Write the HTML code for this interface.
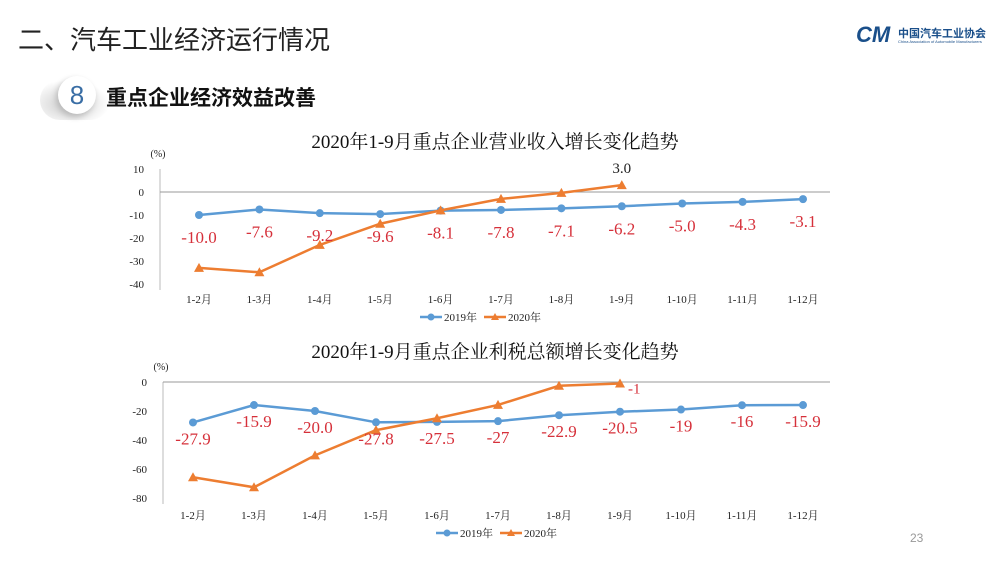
<!DOCTYPE html>
<html><head><meta charset="utf-8">
<style>
body{margin:0;width:1000px;height:563px;background:#fff;overflow:hidden;position:relative;font-family:"Liberation Sans","Noto Sans CJK SC",sans-serif;}
.abs{position:absolute;}
</style></head>
<body>
<div class="abs" style="left:18px;top:20px;font-size:26px;color:#222;">二、汽车工业经济运行情况</div>
<div class="abs" style="left:856px;top:24px;width:140px;height:24px;">
  <span style="position:absolute;left:0;top:-2px;font:italic bold 22px 'Liberation Sans',sans-serif;color:#1a4f8a;">CM</span>
  <span style="position:absolute;left:42px;top:1px;font-size:11px;font-weight:bold;color:#1a4f8a;">中国汽车工业协会</span>
  <span style="position:absolute;left:42px;top:15px;font-size:4px;color:#1a4f8a;">China Association of Automobile Manufacturers</span>
</div>
<div class="abs" style="left:40px;top:80px;width:70px;height:40px;border-radius:20px;background:radial-gradient(ellipse at 40% 60%,#ccc,rgba(255,255,255,0) 70%);"></div>
<div class="abs" style="left:58px;top:76px;width:38px;height:38px;border-radius:50%;background:#fff;box-shadow:-2px 3px 6px #bbb;text-align:center;line-height:38px;font-size:26px;color:#3a6ea5;">8</div>
<div class="abs" style="left:106px;top:82px;font-size:21px;font-weight:bold;color:#111;">重点企业经济效益改善</div>
<div class="abs" style="left:910px;top:531px;font-size:12px;color:#999;">23</div>
<svg id="chart" class="abs" style="left:0;top:0" width="1000" height="563"></svg>
<script>
const categories=["1-2月","1-3月","1-4月","1-5月","1-6月","1-7月","1-8月","1-9月","1-10月","1-11月","1-12月"];
const rev2019=[-10.0,-7.6,-9.2,-9.6,-8.1,-7.8,-7.1,-6.2,-5.0,-4.3,-3.1];
const rev2019Labels=["-10.0","-7.6","-9.2","-9.6","-8.1","-7.8","-7.1","-6.2","-5.0","-4.3","-3.1"];
const rev2020=[-33.0,-34.9,-23.0,-13.8,-8.0,-3.0,-0.4,3.0];
const revTicks=[10,0,-10,-20,-30,-40];
const prof2019=[-27.9,-15.9,-20.0,-27.8,-27.5,-27,-22.9,-20.5,-19,-16,-15.9];
const prof2019Labels=["-27.9","-15.9","-20.0","-27.8","-27.5","-27","-22.9","-20.5","-19","-16","-15.9"];
const prof2020=[-65.7,-72.6,-50.6,-33.2,-25,-15.8,-2.6,-1];
const profTicks=[0,-20,-40,-60,-80];

const svg=document.getElementById('chart');
const NS='http://www.w3.org/2000/svg';
function mk(tag,attrs,text){const e=document.createElementNS(NS,tag);for(const k in attrs)e.setAttribute(k,attrs[k]);if(text!==undefined)e.textContent=text;svg.appendChild(e);return e;}
const BLUE='#5b9bd5',ORANGE='#ed7d31',RED='#d6303a',SERIF='"Liberation Serif","Noto Serif CJK SC",serif';

function drawChart(o){
  const xs=i=>o.x0+i*o.dx;
  const ys=v=>o.y0+(0-v)*o.k;
  let t=mk('text',{x:495,y:o.titleY,'text-anchor':'middle','font-size':19,'font-family':SERIF,fill:'#111'},o.title);
  
  
  t=mk('text',{x:o.axisX-2,y:ys(o.ticks[0])-12,'text-anchor':'middle','font-size':10,'font-family':SERIF,fill:'#222'},'(%)');
  
  
  let ax=mk('line',{x1:o.axisX,x2:o.axisX,y1:ys(o.ticks[0]),y2:ys(o.ticks[o.ticks.length-1])+6,stroke:'#bbb'});
  
  
  let zl=mk('line',{x1:o.axisX,x2:830,y1:ys(0),y2:ys(0),stroke:'#999'});
  
  
  o.ticks.forEach(v=>{
    const e=mk('text',{x:o.axisX-16,y:ys(v)+4,'text-anchor':'end','font-size':11,'font-family':SERIF,fill:'#222'},String(v));
    
    
  });
  categories.forEach((c,i)=>{
    const e=mk('text',{x:xs(i),y:o.catY,'text-anchor':'middle','font-size':11,'font-family':SERIF,fill:'#222'},c);
    
    
  });
  [[o.s2019,BLUE],[o.s2020,ORANGE]].forEach(([s,col],si)=>{
    const l=mk('polyline',{points:s.map((v,i)=>xs(i)+','+ys(v)).join(' '),fill:'none',stroke:col,'stroke-width':2.5});
    
    
    s.forEach((v,i)=>{
      let m;
      if(si===0){m=mk('circle',{cx:xs(i),cy:ys(v),r:4,fill:col});}
      else{const x=xs(i),y=ys(v);m=mk('polygon',{points:`${x},${y-5} ${x-5},${y+4} ${x+5},${y+4}`,fill:col});}
      
      
    });
  });
  o.s2019.forEach((v,i)=>{
    const e=mk('text',{x:xs(i),y:ys(v)+o.lblOff,'text-anchor':'middle','font-size':17,'font-family':SERIF,fill:RED},o.labels[i]);
    
    
  });
  const last=o.s2020.length-1;
  const e=mk('text',{x:xs(last)+o.lastDx,y:ys(o.s2020[last])+o.lastDy,'text-anchor':o.lastAnchor,'font-size':15,'font-family':SERIF,fill:o.lastColor},o.lastLabel);
  
  
  // legend
  const lx=o.legX,ly=o.legY;
  let g=mk('line',{x1:lx,x2:lx+22,y1:ly,y2:ly,stroke:BLUE,'stroke-width':2.5});
  
  g=mk('circle',{cx:lx+11,cy:ly,r:3.5,fill:BLUE});
  
  g=mk('text',{x:lx+24,y:ly+4,'font-size':11,'font-family':SERIF,fill:'#222'},'2019年');
  
  g=mk('line',{x1:lx+64,x2:lx+86,y1:ly,y2:ly,stroke:ORANGE,'stroke-width':2.5});
  
  g=mk('polygon',{points:`${lx+75},${ly-4} ${lx+71},${ly+3} ${lx+79},${ly+3}`,fill:ORANGE});
  
  g=mk('text',{x:lx+88,y:ly+4,'font-size':11,'font-family':SERIF,fill:'#222'},'2020年');
  
}
drawChart({id:'revenue',title:'2020年1-9月重点企业营业收入增长变化趋势',titleY:148,x0:199,dx:60.4,y0:192,k:2.3,axisX:160,
  ticks:revTicks,s2019:rev2019,s2020:rev2020,labels:rev2019Labels,catY:303,lblOff:28,
  lastLabel:'3.0',lastDx:0,lastDy:-12,lastAnchor:'middle',lastColor:'#222',legX:420,legY:317});
drawChart({id:'profit',title:'2020年1-9月重点企业利税总额增长变化趋势',titleY:358,x0:193,dx:61,y0:382,k:1.45,axisX:163,
  ticks:profTicks,s2019:prof2019,s2020:prof2020,labels:prof2019Labels,catY:519,lblOff:22,
  lastLabel:'-1',lastDx:8,lastDy:10,lastAnchor:'start',lastColor:RED,legX:436,legY:533});
</script>
</body></html>
